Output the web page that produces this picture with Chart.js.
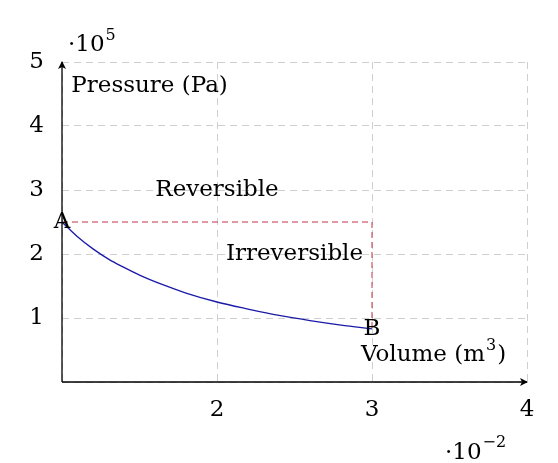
<!DOCTYPE html>
<html>
<head>
<meta charset="utf-8">
<script src="https://cdn.jsdelivr.net/npm/chart.js@4/dist/chart.umd.min.js"></script>
<style>
  html, body { margin: 0; padding: 0; background: #fff; }
  #wrap { width: 558px; height: 463px; position: relative; }
</style>
</head>
<body>
<div id="wrap"><canvas id="chart"></canvas></div>
<script>
/* Données (V en 1e-2 m3, P en 1e5 Pa) */
const curveV = [1, 1.1, 1.2, 1.3, 1.4, 1.5, 1.65, 1.8, 2, 2.2, 2.4, 2.6, 2.8, 3];
const curveP = [2.5, 2.27, 2.08, 1.92, 1.79, 1.67, 1.52, 1.39, 1.25, 1.14, 1.04, 0.96, 0.89, 0.83];

const pathV = [1, 3, 3];
const pathP = [2.5, 2.5, 0.83];

const xTicks = [1, 2, 3, 4];
const yTicks = [0, 1, 2, 3, 4, 5];

/* Textes posés dans le repère des données */
const notes = [
  { text: 'Pressure (Pa)', x: 1.06, y: 4.62, align: 'left' },
  { text: 'Reversible',    x: 2.0,  y: 3.0,  align: 'center' },
  { text: 'Irreversible',  x: 2.5,  y: 2.0,  align: 'center' },
  { text: 'A',             x: 1.0,  y: 2.5,  align: 'center' },
  { text: 'B',             x: 3.0,  y: 0.83, align: 'center' },
];

const FONT = '"DejaVu Serif", "Liberation Serif", serif';
const SIZE = 23, SUP = 16;

const points = (xs, ys) => xs.map((x, i) => ({ x, y: ys[i] }));

/* Axes avec flèches, textes et facteurs d'échelle */
const decorPlugin = {
  id: 'decor',
  afterDatasetsDraw(chart) {
    const { ctx, scales: { x, y } } = chart;
    const x0 = x.getPixelForValue(1), x1 = x.getPixelForValue(4);
    const y0 = y.getPixelForValue(0), y1 = y.getPixelForValue(5);

    ctx.save();
    ctx.strokeStyle = '#000';
    ctx.fillStyle = '#000';
    ctx.lineWidth = 1.3;
    ctx.beginPath();
    ctx.moveTo(x0, y0); ctx.lineTo(x1, y0);
    ctx.moveTo(x0, y0); ctx.lineTo(x0, y1);
    ctx.stroke();
    // pointes de flèche
    ctx.beginPath();
    ctx.moveTo(x1 + 1, y0); ctx.lineTo(x1 - 7, y0 - 4); ctx.lineTo(x1 - 5, y0); ctx.lineTo(x1 - 7, y0 + 4);
    ctx.closePath(); ctx.fill();
    ctx.beginPath();
    ctx.moveTo(x0, y1 - 1); ctx.lineTo(x0 - 4, y1 + 7); ctx.lineTo(x0, y1 + 5); ctx.lineTo(x0 + 4, y1 + 7);
    ctx.closePath(); ctx.fill();

    ctx.font = SIZE + 'px ' + FONT;
    ctx.textBaseline = 'middle';
    notes.forEach(n => {
      ctx.textAlign = n.align;
      ctx.fillText(n.text, x.getPixelForValue(n.x), y.getPixelForValue(n.y));
    });

    // Volume (m³)
    const vx = x.getPixelForValue(3.0) - 11, vy = y.getPixelForValue(0.42);
    ctx.textAlign = 'left';
    ctx.fillText('Volume (m', vx, vy);
    let w = ctx.measureText('Volume (m').width;
    ctx.font = SUP + 'px ' + FONT;
    ctx.fillText('3', vx + w + 1, vy - 9);
    let w3 = ctx.measureText('3').width;
    ctx.font = SIZE + 'px ' + FONT;
    ctx.fillText(')', vx + w + w3 + 2, vy);

    // ·10^5
    ctx.fillText('\u00b710', 68, 45);
    w = ctx.measureText('\u00b710').width;
    ctx.font = SUP + 'px ' + FONT;
    ctx.fillText('5', 68 + w + 1, 36);

    // ·10^-2
    ctx.font = SIZE + 'px ' + FONT;
    ctx.fillText('\u00b710', 445, 453);
    w = ctx.measureText('\u00b710').width;
    ctx.font = SUP + 'px ' + FONT;
    ctx.fillText('\u22122', 445 + w + 1, 443);
    ctx.restore();
  }
};

new Chart(document.getElementById('chart'), {
  type: 'scatter',
  data: {
    datasets: [
      {
        label: 'Irreversible',
        data: points(pathV, pathP),
        showLine: true,
        borderColor: '#bf3549',
        borderWidth: 1,
        borderDash: [6, 4],
        pointRadius: 0,
        tension: 0,
      },
      {
        label: 'Reversible',
        data: points(curveV, curveP),
        showLine: true,
        borderColor: '#1a1aa8',
        borderWidth: 1.3,
        pointRadius: 0,
        cubicInterpolationMode: 'monotone',
      },
    ],
  },
  options: {
    responsive: true,
    maintainAspectRatio: false,
    animation: false,
    layout: { padding: { top: 62, right: 31, left: 0, bottom: 0 } },
    plugins: {
      legend: { display: false },
      tooltip: { enabled: false },
    },
    scales: {
      x: {
        type: 'linear',
        min: 1, max: 4,
        afterBuildTicks: s => { s.ticks = xTicks.map(v => ({ value: v })); },
        afterFit: s => { s.height = 81; },
        ticks: {
          color: '#000',
          padding: 14,
          font: { family: FONT, size: SIZE },
          callback: v => (v === 1 ? '' : v),
        },
        grid: { color: '#cfcfcf', lineWidth: 1, drawTicks: false },
        border: { display: false, dash: [7, 5] },
      },
      y: {
        type: 'linear',
        min: 0, max: 5,
        afterBuildTicks: s => { s.ticks = yTicks.map(v => ({ value: v })); },
        afterFit: s => { s.width = 62; },
        ticks: {
          color: '#000',
          padding: 18,
          font: { family: FONT, size: SIZE },
          callback: v => (v === 0 ? '' : v),
        },
        grid: { color: '#cfcfcf', lineWidth: 1, drawTicks: false },
        border: { display: false, dash: [7, 5] },
      },
    },
  },
  plugins: [decorPlugin],
});
</script>
</body>
</html>
